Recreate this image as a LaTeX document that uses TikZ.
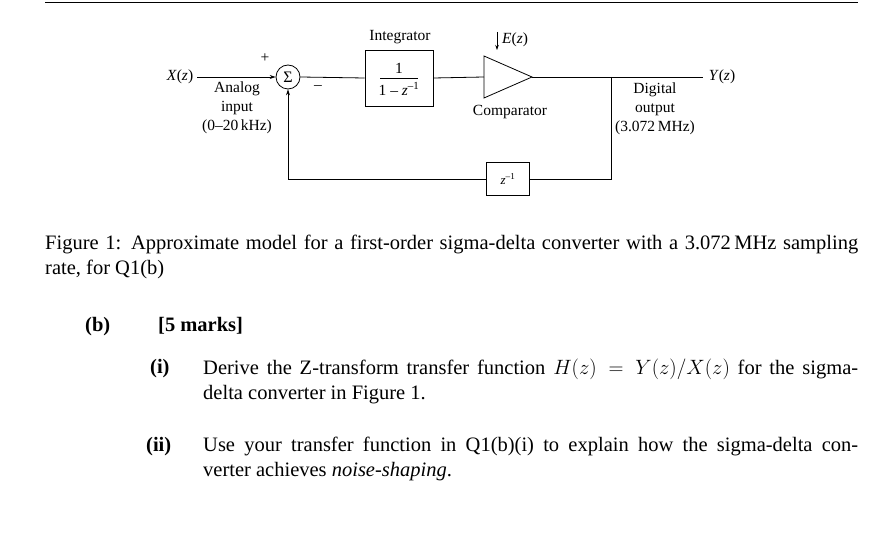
\documentclass[tikz,border=0pt]{standalone}
\usepackage{fontspec}
\setmainfont{Liberation Serif}
\usetikzlibrary{arrows.meta}
\newcommand{\iz}[1]{\textit{#1}}
\begin{document}
\begin{tikzpicture}[x=1pt,y=-1pt,
  lbl/.style={font=\fontsize{15.5}{17}\selectfont,inner sep=0pt,align=center},
  blk/.style={draw,line width=0.8pt,inner sep=0pt},
  ln/.style={line width=0.8pt},
  arr/.style={line width=0.8pt,-{Stealth[length=6pt,width=4pt]}},
  body/.style={font=\fontsize{20.5}{25}\selectfont,inner sep=0pt,anchor=north west,align=justify}]
\useasboundingbox (0,0) rectangle (887,537);
\draw[line width=0.6pt] (45,2) -- (858,2);
% diagram
\node[lbl] (x) at (180,77) {\iz{X}(\iz{z})};
\node[draw,circle,line width=0.8pt,minimum size=24pt,inner sep=0pt] (s) at (288,77) {\fontsize{16}{16}\selectfont Σ};
\node[blk,minimum width=68pt,minimum height=56pt] (int) at (399,78) {};
\node[lbl] at (399,68) {1};
\draw[line width=0.6pt] (380,78) -- (418,78);
\node[lbl] at (399,89) {1 – \iz{z}\textsuperscript{–1}};
\node[lbl] at (400,37) {Integrator};
\draw[ln] (484,56) -- (532,77) -- (484,98) -- cycle;
\coordinate (tin) at (484,77);
\coordinate (tout) at (532,77);
\node[lbl] (y) at (722,77) {\iz{Y}(\iz{z})};
\coordinate (br) at (611,77);
\coordinate (bb) at (611,179);
\node[blk,minimum width=43pt,minimum height=33pt] (d) at (508,179) {\fontsize{13}{14}\selectfont\iz{z}\textsuperscript{–1}};
\coordinate (bl) at (288,179);
\coordinate (xin) at (197,77);
\coordinate (yend) at (703,77);
\draw[arr] (xin) -- (s.west);
\draw[ln] (s.east) -- (int.west);
\draw[ln] (int.east) -- (tin);
\draw[ln] (tout) -- (yend);
\draw[ln] (br) -- (bb) -- (d.east);
\draw[ln] (d.west) -- (bl);
\draw[arr] (bl) -- (s.south);
\coordinate (ea) at (497,32);
\coordinate (eb) at (497,50);
\draw[line width=0.6pt,-{Stealth[length=5pt,width=3.5pt]}] (ea) -- (eb);
\node[lbl,anchor=west] at (502,40) {\iz{E}(\iz{z})};
\node[lbl] at (265,58) {+};
\node[lbl] at (318,88) {–};
\node[lbl] at (510,112) {Comparator};
\node[lbl,font=\fontsize{15.5}{19}\selectfont] at (237,108) {Analog\\input\\(0–20\,kHz)};
\node[lbl,font=\fontsize{15.5}{19}\selectfont] at (655,109) {Digital\\output\\(3.072\,MHz)};
% text
\node[body,text width=813pt] (cap) at (45,235) {Figure 1: Approximate model for a first-order sigma-delta converter with a 3.072\,MHz sampling\linebreak rate, for Q1(b)};
\node[body,font=\fontsize{20.5}{25}\selectfont\bfseries] (b) at (85,317) {(b)};
\node[body,font=\fontsize{20.5}{25}\selectfont\bfseries] (m) at (158,317) {[5 marks]};
\node[body,font=\fontsize{20.5}{25}\selectfont\bfseries] (i) at (150,359) {(i)};
\node[body,text width=655pt] (ti) at (203,359) {Derive the Z-transform transfer function $H(z)=Y(z)/X(z)$ for the sigma-\linebreak delta converter in Figure 1.};
\node[body,font=\fontsize{20.5}{25}\selectfont\bfseries] (ii) at (146,437) {(ii)};
\node[body,text width=655pt] (tii) at (203,437) {Use your transfer function in Q1(b)(i) to explain how the sigma-delta con-\linebreak verter achieves \textit{noise-shaping}.};
\end{tikzpicture}
\end{document}
